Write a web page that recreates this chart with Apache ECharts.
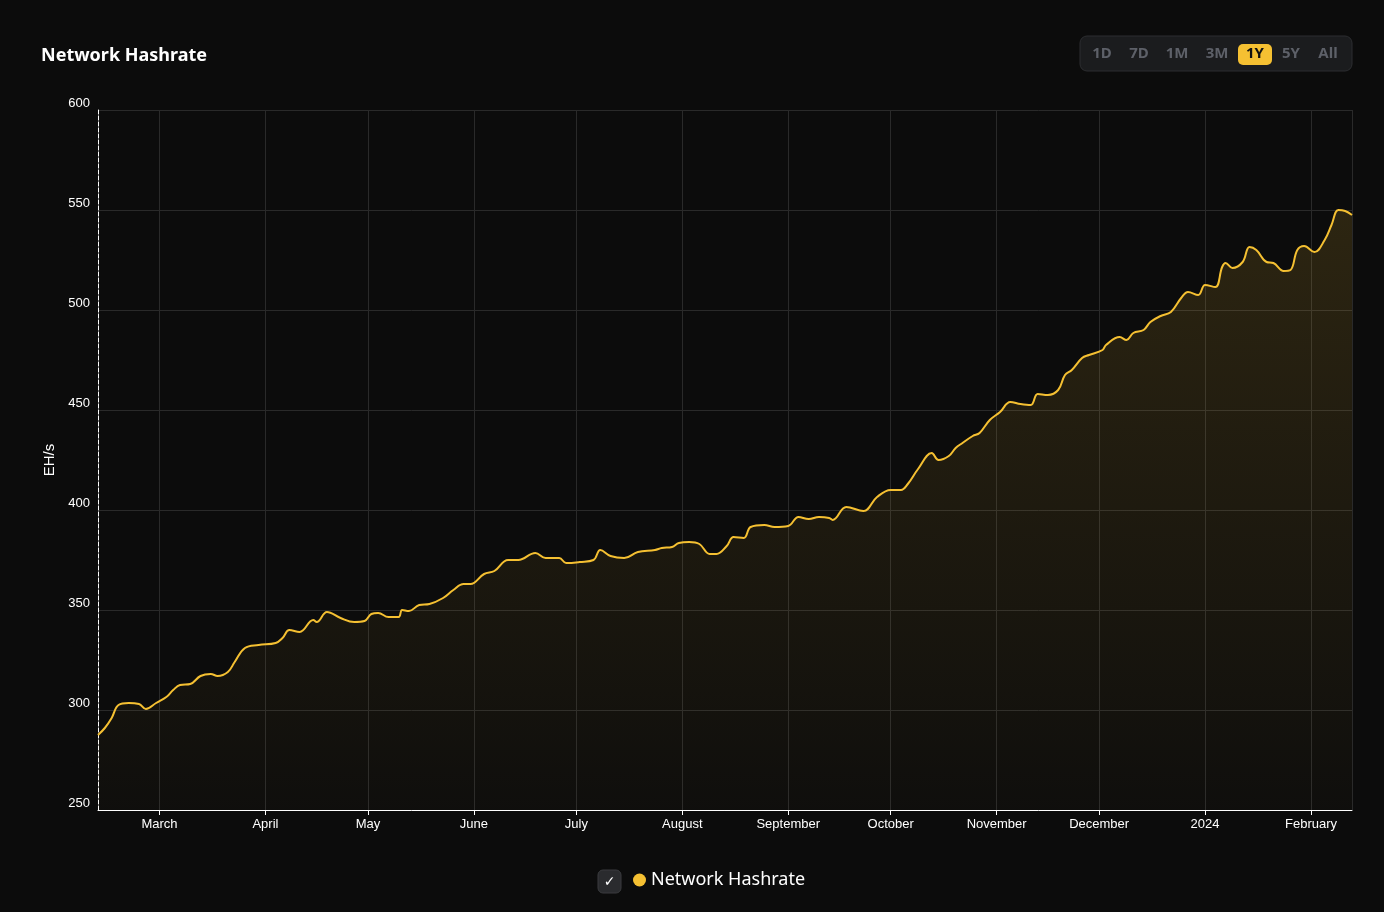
<!DOCTYPE html>
<html>
<head>
<meta charset="utf-8">
<script src="https://cdn.jsdelivr.net/npm/echarts@6/dist/echarts.min.js"></script>
<style>
html,body{margin:0;padding:0;background:#0c0c0c;}
#main{width:1384px;height:912px;}
</style>
</head>
<body>
<div id="main"></div>
<script>
// days since 2023-02-11 and hashrate in EH/s
var startDate = Date.UTC(2023, 1, 11);
var dayOffsets = [0,2,4,6,9,12,14,17,20,22,24,27,30,33,35,38,40,43,47,52,54,56,59,63,64,67,71,75,78,80,82,85,88,89,91,94,97,101,104,107,109,113,116,120,123,128,131,135,137,141,145,147,150,154,158,163,165,168,170,173,176,179,181,184,186,189,191,195,198,202,205,208,211,214,215,219,224,228,232,235,237,240,244,246,249,251,253,256,258,261,264,267,270,273,275,278,281,283,285,288,290,294,295,299,301,303,306,308,311,314,317,319,322,324,327,329,330,332,335,337,339,342,344,347,349,351,353,356,359,361,363,365,367];
var hashrate = [287.5,291,296,302.5,303.5,303,300.5,303.5,306.5,310,312.5,313,317,318,317,319,324,331,332.5,333.5,336,340,339,345,344,349,346,344,344.5,348,348.5,346.5,346.5,350,349.5,352.5,353,356,360,363,363,368,369.5,375,375,378.5,376,376,373.5,374,375,380,377,376,379,380,381,381.5,383.5,384,383,378,378,382,386.5,386,391.5,392.5,391.5,392,396.5,395.5,396.5,396,395,401.5,399.5,406.5,410,410,413,420.5,428.5,425,427,431,433.5,437,438.5,445,449,454,453,452.5,458,457.5,460,467.5,470,476,477.5,480,482.5,486.5,485,488.5,490,494,497,499,506,509,507.5,512.5,511.5,521.5,523.5,521,524,531.5,530,524,523.5,519.5,520,530,532,529,535,542.5,550,549.5,547.5];
var monthNames = ['January','February','March','April','May','June','July','August','September','October','November','December'];
var rangeButtons = ['1D','7D','1M','3M','1Y','5Y','All'];

var DAY = 86400000;
var seriesData = dayOffsets.map(function(d, i){ return [startDate + d * DAY, hashrate[i]]; });

var myChart = echarts.init(document.getElementById('main'));
var yellow = '#f5c032';

var graphics = [
  {type:'text', left:41, top:47, style:{text:'Network Hashrate', fill:'#fff', font:'bold 18px "Noto Sans", sans-serif'}},
  {type:'rect', shape:{x:1080, y:36, width:272, height:35, r:7}, style:{fill:'#1b1c1e', stroke:'#2c2d30', lineWidth:1}}
];
var bx = [1102, 1139, 1177, 1217, 1255, 1291, 1328];
rangeButtons.forEach(function(b, i){
  if (b === '1Y') {
    graphics.push({type:'rect', shape:{x:bx[i]-17, y:44, width:34, height:21, r:5}, style:{fill:yellow}});
  }
  graphics.push({type:'text', x:bx[i], y:54, style:{text:b, fill: b==='1Y' ? '#111' : '#5d6068', font:'bold 15px "Noto Sans", sans-serif', align:'center', verticalAlign:'middle'}});
});
graphics.push({type:'rect', shape:{x:598, y:870, width:23, height:23, r:5}, style:{fill:'#2a2b2e', stroke:'#3a3b3e'}});
graphics.push({type:'text', x:609.5, y:882, style:{text:'✓', fill:'#fff', font:'bold 14px "DejaVu Sans", sans-serif', align:'center', verticalAlign:'middle'}});

var option = {
  backgroundColor:'#0c0c0c',
  animation:false,
  graphic: graphics,
  grid:{left:98, right:32, top:110, bottom:102},
  legend:{
    bottom:18, left:628, itemWidth:13, itemHeight:13, icon:'circle',
    textStyle:{color:'#fff', fontSize:18, fontFamily:'"Noto Sans", sans-serif'},
    data:['Network Hashrate']
  },
  xAxis:{
    type:'time',
    min:startDate, max:startDate + 367 * DAY,
    minInterval:28 * DAY, maxInterval:31 * DAY,
    axisLine:{lineStyle:{color:'#fff'}},
    axisTick:{show:true, lineStyle:{color:'#fff'}},
    axisLabel:{color:'#fff', fontSize:13, hideOverlap:false,
      formatter:function(v){ var d = new Date(v); return d.getUTCMonth() === 0 ? String(d.getUTCFullYear()) : monthNames[d.getUTCMonth()]; }},
    splitLine:{show:true, lineStyle:{color:'#2a2a2a'}}
  },
  yAxis:{
    type:'value', min:250, max:600, interval:50,
    name:'EH/s', nameLocation:'middle', nameGap:40, nameRotate:90,
    nameTextStyle:{color:'#fff', fontSize:15},
    axisLine:{show:true, lineStyle:{color:'#fff', type:'dashed'}},
    axisTick:{show:false},
    axisLabel:{color:'#fff', fontSize:13, verticalAlign:'bottom'},
    splitLine:{lineStyle:{color:'#2a2a2a'}}
  },
  series:[{
    name:'Network Hashrate',
    type:'line',
    data:seriesData,
    smooth:0.4,
    showSymbol:false,
    color:yellow,
    lineStyle:{width:2, color:yellow},
    areaStyle:{color:new echarts.graphic.LinearGradient(0,0,0,1,[
      {offset:0, color:'rgba(245,192,50,0.2)'},
      {offset:1, color:'rgba(245,192,50,0.02)'}
    ])}
  }]
};
myChart.setOption(option);
</script>
</body>
</html>
